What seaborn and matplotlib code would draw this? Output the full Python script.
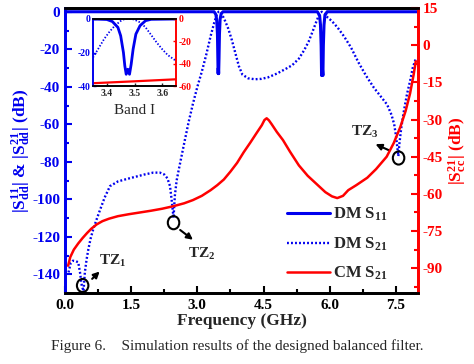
import matplotlib
matplotlib.use("Agg")
import matplotlib.pyplot as plt
from matplotlib.patches import Ellipse
import pandas as pd
import seaborn as sns

# ---- values ----
# DM S11, main plot (left axis, dB)
s11_freq = [0.0, 3.38, 3.42, 3.44, 3.455, 3.465, 3.47, 3.476, 3.482, 3.49, 3.5, 3.515, 3.54, 3.58,
            5.72, 5.77, 5.79, 5.805, 5.815, 5.83, 5.845, 5.855, 5.87, 5.89, 5.94, 8.0]
s11_db = [0, 0, -1.5, -5, -12, -26, -33, -30, -33, -25, -12, -4, -1, 0,
          0, -2, -7, -18, -34, -29, -34, -18, -7, -2, 0, 0]

# DM S21, main plot (left axis, dB)
s21_freq = [0.08, 0.13, 0.18, 0.24, 0.3, 0.34, 0.38, 0.42, 0.45, 0.49, 0.53, 0.58, 0.64, 0.72, 0.8,
            0.9, 1.02, 1.2, 1.4, 1.6, 1.8, 2.0, 2.15, 2.25, 2.32, 2.38, 2.42, 2.46, 2.49, 2.53,
            2.58, 2.65, 2.72, 2.8, 2.9, 3.0, 3.1, 3.2, 3.3, 3.38, 3.44, 3.48, 3.52, 3.57, 3.63,
            3.7, 3.78, 3.86, 3.94, 4.02, 4.15, 4.3, 4.45, 4.6, 4.8, 5.0, 5.15, 5.3, 5.42, 5.52,
            5.62, 5.7, 5.76, 5.82, 5.88, 5.95, 6.05, 6.18, 6.32, 6.48, 6.65, 6.82, 7.0, 7.15,
            7.3, 7.4, 7.46, 7.5, 7.53, 7.555, 7.58, 7.62, 7.68, 7.75, 7.82, 7.88, 7.95]
s21_db = [-139, -134, -132.8, -133, -133.6, -139, -146, -149, -139, -132, -126.6, -121, -116, -110.5, -105.3,
          -99, -93, -90.5, -89.2, -88, -86.8, -85.8, -85.8, -86.8, -88.8, -93, -101, -110, -98, -90,
          -84, -76, -68, -59, -49, -40, -32, -23, -13, -6, -1.5, 0, 0, -2, -5,
          -9, -15, -22, -29, -33.5, -35.5, -36, -35.8, -35, -33, -30.5, -28.5, -25, -20.5, -16,
          -10, -5, -1.5, 0, -1, -3, -5, -8.5, -13, -19, -27, -34, -40.5, -45,
          -49.5, -55, -60, -66, -72, -77, -70, -62, -53, -44, -37, -30, -25]

# CM S21, main plot (right axis, dB)
cm_freq = [0.07, 0.12, 0.2, 0.3, 0.4, 0.5, 0.6, 0.72, 0.85, 1.0, 1.2, 1.45, 1.7, 1.95, 2.2, 2.45,
           2.7, 2.9, 3.1, 3.3, 3.45, 3.6, 3.75, 3.9, 4.05, 4.2, 4.34, 4.46, 4.52, 4.57, 4.62, 4.68,
           4.8, 4.94, 5.1, 5.3, 5.5, 5.7, 5.9, 6.05, 6.17, 6.3, 6.42, 6.6, 6.85, 7.05, 7.29, 7.45,
           7.6, 7.72, 7.82, 7.9, 7.95]
cm_db = [-89, -85.5, -82.5, -80, -77.8, -75.8, -74, -72.3, -71, -70, -69, -68.2, -67.5, -66.8, -66, -65,
         -63.8, -62.5, -60.8, -58.5, -56.5, -54.2, -51, -47.5, -43.2, -39.3, -35.5, -32.3, -30.2, -29.5, -30.3, -31.8,
         -35, -38.3, -43, -48.5, -52.7, -56, -59.3, -61, -61.7, -60.8, -58.5, -56.5, -53.5, -50, -45, -39.5,
         -33, -26.5, -19.5, -12, -6.5]

# inset (Band I)
in_s11_freq = [3.35, 3.40, 3.42, 3.44, 3.45, 3.46, 3.465, 3.47, 3.476, 3.482, 3.488, 3.495, 3.505,
               3.52, 3.54, 3.56, 3.65]
in_s11_db = [0, -0.3, -1.5, -5, -10, -20, -28, -33, -30, -33, -27, -18, -9, -4, -1, -0.2, 0]
in_s21_freq = [3.35, 3.37, 3.39, 3.41, 3.43, 3.45, 3.46, 3.47, 3.49, 3.5, 3.52, 3.54, 3.56, 3.58,
               3.6, 3.62, 3.65]
in_s21_db = [-23, -17.5, -12, -7.5, -3.8, -1.2, -0.3, 0, 0, -0.4, -2, -5, -9.5, -14, -18, -21.5, -25]
in_cm_freq = [3.35, 3.5, 3.65]
in_cm_db = [-57.5, -55.8, -54]

x_ticks = [0.0, 1.5, 3.0, 4.5, 6.0, 7.5]
left_ticks = [0, -20, -40, -60, -80, -100, -120, -140]
right_ticks = [15, 0, -15, -30, -45, -60, -75, -90]
in_x_ticks = [3.4, 3.5, 3.6]
in_left_ticks = [0, -20, -40]
in_right_ticks = [0, -20, -40, -60]

sns.set_style("ticks")
plt.rcParams["font.family"] = "Liberation Serif"
plt.rcParams["font.weight"] = "bold"
plt.rcParams["axes.unicode_minus"] = False
plt.rcParams["mathtext.fontset"] = "custom"
plt.rcParams["mathtext.rm"] = "Liberation Serif:bold"
plt.rcParams["mathtext.it"] = "Liberation Serif:bold"
plt.rcParams["mathtext.bf"] = "Liberation Serif:bold"

BLUE = "#0000ee"
RED = "#ff0000"

fig = plt.figure(figsize=(4.74, 3.64), dpi=100)
ax = fig.add_axes([65 / 474, 1 - 293 / 364, 353 / 474, 285 / 364])
ax2 = ax.twinx()

sns.lineplot(x=s11_freq, y=s11_db, ax=ax, color=BLUE, lw=2.2, label="DM S$_{11}$", legend=False)
sns.lineplot(x=s21_freq, y=s21_db, ax=ax, color=BLUE, lw=1.7, linestyle=(0, (0.8, 0.9)),
             label="DM S$_{21}$", legend=False)
sns.lineplot(x=cm_freq, y=cm_db, ax=ax2, color=RED, lw=1.8, label="CM S$_{21}$", legend=False)

ax.set_xlim(0, 8)
ax.set_ylim(-150, 2)
ax2.set_ylim(-100, 15)
ax.set_xticks(x_ticks)
ax.set_xticklabels([f"{t:.1f}" for t in x_ticks])
ax.set_yticks(left_ticks)
ax2.set_yticks(right_ticks)
ax.set_xticks([0.75, 2.25, 3.75, 5.25, 6.75], minor=True)
ax.set_yticks([-10, -30, -50, -70, -90, -110, -130, -150], minor=True)
ax2.set_yticks([7.5, -7.5, -22.5, -37.5, -52.5, -67.5, -82.5, -97.5], minor=True)

for a in (ax, ax2):
    a.tick_params(which="both", direction="in", width=1.5, labelsize=11)
    a.tick_params(which="major", length=5)
    a.tick_params(which="minor", length=3)
ax.tick_params(axis="y", which="both", colors=BLUE)
ax2.tick_params(axis="y", which="both", colors=RED)
ax.tick_params(axis="x", which="both", colors="black", pad=4)

for a in (ax, ax2):
    for s in a.spines.values():
        s.set_linewidth(2)
    a.spines["left"].set_color(BLUE)
    a.spines["right"].set_color(RED)
    a.spines["top"].set_color("black")
    a.spines["bottom"].set_color("black")

ax.set_xlabel("Frequency (GHz)", fontsize=12.5, fontweight="bold", labelpad=1)
ax.set_ylabel("|S$^{11}_{dd}$| & |S$^{21}_{dd}$| (dB)", fontsize=12.5, fontweight="bold",
              color=BLUE, labelpad=0)
ax2.set_ylabel("|S$^{21}_{cc}$| (dB)", fontsize=12.5, fontweight="bold", color=RED, labelpad=2)

# transmission zero markers
tz = [("TZ$_1$", 0.40, -146, (0.57, -143.5), (0.83, -137.5), (1.07, -133)),
      ("TZ$_2$", 2.46, -112.5, (2.56, -115.5), (2.95, -122.5), (3.1, -129)),
      ("TZ$_3$", 7.56, -78, (7.40, -74.5), (6.98, -70), (6.8, -64))]
for name, fx, fy, a0, a1, tpos in tz:
    ax.add_patch(Ellipse((fx, fy), 0.26, 7.0, fill=False, ec="black", lw=1.5, zorder=5))
    ax.annotate("", xy=a1, xytext=a0,
                arrowprops=dict(arrowstyle="-|>", color="black", lw=1.5, mutation_scale=9))
    ax.text(tpos[0], tpos[1], name, fontsize=11, fontweight="bold", ha="center", va="center")

h1, l1 = ax.get_legend_handles_labels()
h2, l2 = ax2.get_legend_handles_labels()
ax2.legend(h1 + h2, l1 + l2, loc="upper left", bbox_to_anchor=(0.628, 0.305), frameon=False,
           fontsize=12, handlelength=2.6, handletextpad=0.15, labelspacing=0.72, borderpad=0,
           borderaxespad=0)

# inset: Band I
ins = fig.add_axes([93 / 474, 1 - 86 / 364, 83 / 474, 67 / 364])
ins2 = ins.twinx()
sns.lineplot(x=in_s11_freq, y=in_s11_db, ax=ins, color=BLUE, lw=2)
sns.lineplot(x=in_s21_freq, y=in_s21_db, ax=ins, color=BLUE, lw=1.3, linestyle=(0, (0.8, 1.0)))
sns.lineplot(x=in_cm_freq, y=in_cm_db, ax=ins2, color=RED, lw=1.6)
ins.set_xlim(3.35, 3.65)
ins.set_ylim(-40, 0)
ins2.set_ylim(-60, 0)
ins.set_xticks(in_x_ticks)
ins.set_yticks(in_left_ticks)
ins2.set_yticks(in_right_ticks)
for a in (ins, ins2):
    a.tick_params(direction="in", length=2.5, width=1, labelsize=7, pad=2)
    for s in a.spines.values():
        s.set_linewidth(1.2)
    a.spines["left"].set_color(BLUE)
    a.spines["right"].set_color(RED)
    a.spines["top"].set_color("black")
    a.spines["bottom"].set_color("black")
ins.tick_params(axis="y", colors=BLUE)
ins2.tick_params(axis="y", colors=RED)
ins.set_xlabel("")
ins.set_ylabel("")
ins.patch.set_alpha(0)
fig.text(135 / 474, 1 - 111 / 364, "Band I", fontsize=11, fontweight="normal", ha="center", va="center")

fig.text(0.5, 1 - 346 / 364, "Figure 6.    Simulation results of the designed balanced filter.",
         fontsize=11, fontweight="normal", ha="center", va="center")

fig.savefig("out.png", dpi=100)
